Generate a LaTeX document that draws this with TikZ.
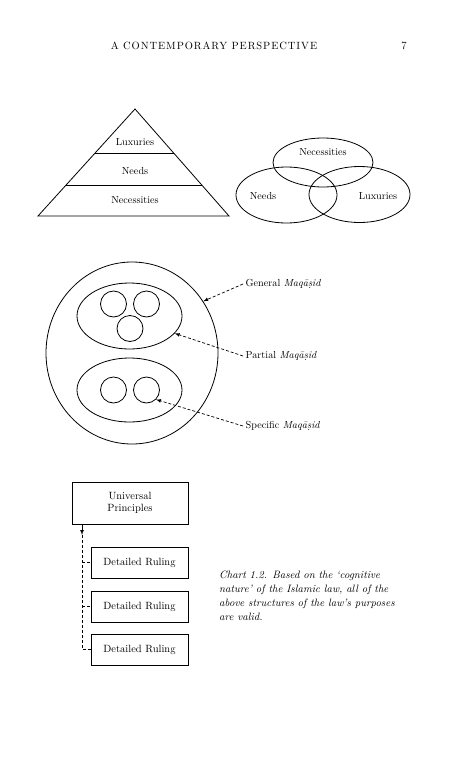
\documentclass[tikz,border=0pt]{standalone}
\usepackage{fontspec}
\newfontfamily\headfont[LetterSpace=9]{lmroman10-regular.otf}
\usepackage{tikz}
\usetikzlibrary{arrows,backgrounds}
\usetikzlibrary{calc}
\usetikzlibrary{shapes,shapes.geometric}
\pgfdeclarelayer{edgelayer}
\pgfdeclarelayer{nodelayer}
\pgfsetlayers{background,edgelayer,nodelayer,main}
\tikzstyle{none}=[inner sep=0mm]
\tikzstyle{lbl}=[inner sep=1pt,font=\fontsize{10.2}{12}\selectfont]
\tikzstyle{ring}=[draw=black,shape=ellipse,line width=0.8pt,inner sep=0pt]
\tikzstyle{small ring}=[draw=black,shape=circle,line width=0.8pt,inner sep=0pt,minimum size=26pt]
\tikzstyle{box}=[draw=black,shape=rectangle,line width=0.8pt,inner sep=1pt,font=\fontsize{10.5}{12.5}\selectfont,align=center]
\tikzstyle{pointer}=[dash pattern=on 3pt off 2pt,line width=0.7pt,-latex]
\tikzstyle{branch}=[dash pattern=on 3pt off 2pt,line width=0.7pt]
\newcommand{\maq}{\textit{Maqāṣid}}

\begin{document}
\begin{tikzpicture}[x=1pt,y=-1pt]
	\useasboundingbox (0,0) rectangle (473,774);
	\begin{pgfonlayer}{nodelayer}
		% running head
		\node [style=none, font=\headfont\fontsize{10.5}{11}\selectfont] (head) at (214, 46) {A CONTEMPORARY PERSPECTIVE};
		\node [style=none, font=\fontsize{11}{12}\selectfont] (page) at (404, 46) {7};
		% pyramid
		\coordinate (apex) at (135, 109);
		\coordinate (bl) at (38, 216);
		\coordinate (br) at (229, 216);
		\node [style=lbl] (lux) at (135, 142) {Luxuries};
		\node [style=lbl] (need) at (135, 171) {Needs};
		\node [style=lbl] (nec) at (135, 200) {Necessities};
		% three ellipses
		\node [style=ring, minimum width=100pt, minimum height=49pt] (vtop) at (323, 162.5) {};
		\node [style=ring, minimum width=101pt, minimum height=56pt] (vleft) at (286.5, 195) {};
		\node [style=ring, minimum width=101pt, minimum height=56pt] (vright) at (359.5, 194.5) {};
		\node [style=lbl] (vnec) at (323, 152) {Necessities};
		\node [style=lbl] (vneed) at (263, 196) {Needs};
		\node [style=lbl] (vlux) at (378, 196) {Luxuries};
		% nested maqasid
		\node [style=ring, minimum width=172pt, minimum height=182pt] (gen) at (132, 353) {};
		\node [style=ring, minimum width=105pt, minimum height=66pt] (par) at (129.5, 316) {};
		\node [style=ring, minimum width=105pt, minimum height=64pt] (spe) at (129.5, 390) {};
		\node [style=small ring] (p1) at (113.5, 304) {};
		\node [style=small ring] (p2) at (146.5, 304) {};
		\node [style=small ring] (p3) at (130, 328.5) {};
		\node [style=small ring] (s1) at (113.5, 390) {};
		\node [style=small ring] (s2) at (146.5, 390) {};
		\node [style=lbl, anchor=west, inner sep=2.5pt] (lgen) at (243, 284) {General \maq};
		\node [style=lbl, anchor=west, inner sep=2.5pt] (lpar) at (243, 356) {Partial \maq};
		\node [style=lbl, anchor=west, inner sep=2.5pt] (lspe) at (243, 426) {Specific \maq};
		% rulings
		\node [style=box, minimum width=116pt, minimum height=42pt] (univ) at (130, 503) {Universal\\Principles};
		\node [style=box, minimum width=97pt, minimum height=31pt] (r1) at (139.5, 562.5) {Detailed Ruling};
		\node [style=box, minimum width=97pt, minimum height=31pt] (r2) at (139.5, 606.5) {Detailed Ruling};
		\node [style=box, minimum width=97pt, minimum height=31pt] (r3) at (139.5, 649.5) {Detailed Ruling};
		\coordinate (ua) at (82, 524);
		\coordinate (ub) at (82, 535);
		% caption
		\node [style=none, anchor=north west, align=left, font=\fontsize{10.7}{14}\selectfont\itshape] (cap) at (219, 571)
			{Chart 1.2. Based on the `cognitive\\nature' of the Islamic law, all of the\\above structures of the law's purposes\\are valid.};
	\end{pgfonlayer}
	\begin{pgfonlayer}{edgelayer}
		\draw [line width=0.8pt, line join=miter] (apex) -- (br) -- (bl) -- cycle;
		\draw [line width=0.8pt] ($(apex)!0.411!(bl)$) -- ($(apex)!0.411!(br)$);
		\draw [line width=0.8pt] ($(apex)!0.71!(bl)$) -- ($(apex)!0.71!(br)$);
		\draw [style=pointer] (lgen.west) to (gen.36);
		\draw [style=pointer] (lpar.west) to (par.-21);
		\draw [style=pointer] (lspe.west) to (s2.-45);
		\draw [line width=0.7pt, -latex] (ua) to (ub);
		\draw [style=branch] (ub) |- (r3.west);
		\draw [style=branch] (ub |- r1.west) to (r1.west);
		\draw [style=branch] (ub |- r2.west) to (r2.west);
	\end{pgfonlayer}
\end{tikzpicture}
\end{document}
